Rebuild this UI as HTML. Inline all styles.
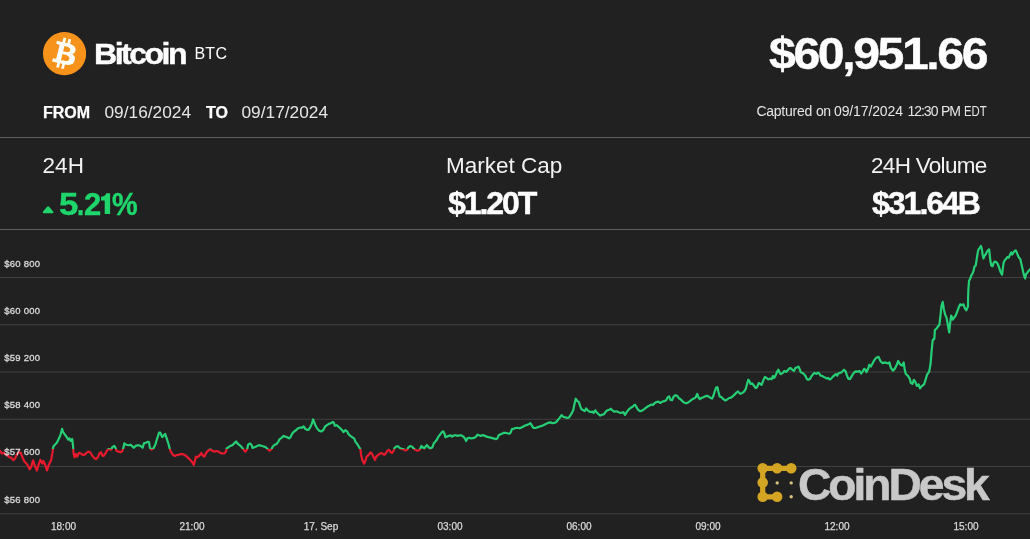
<!DOCTYPE html>
<html lang="en">
<head>
<meta charset="utf-8">
<title>Bitcoin BTC price chart</title>
<style>
  html, body { margin: 0; padding: 0; }
  body {
    width: 1030px; height: 539px; overflow: hidden;
    background: #212121;
    font-family: "Liberation Sans", sans-serif;
    color: #ffffff;
    position: relative;
  }
  .abs { position: absolute; white-space: nowrap; line-height: 1; }
  #textlayer { position: absolute; left: 0; top: 0; width: 1030px; height: 539px; will-change: transform; }
  .hr { position: absolute; left: 0; width: 1030px; height: 1px; background: #5e5e5e; }

  /* header */
  #coin-name { left: 93.8px; top: 38.8px; font-size: 30px; font-weight: bold; letter-spacing: -2.38px; transform: scaleX(1.07); transform-origin: 0 0; }
  #coin-sym  { left: 194.4px; top: 46px; font-size: 16px; letter-spacing: 0.3px; }
  #lbl-from  { left: 43px; top: 105px; font-size: 16px; font-weight: bold; }
  #date-from { left: 104.5px; top: 104px; font-size: 17.3px; color: #e6e6e6; }
  #lbl-to    { left: 206px; top: 105px; font-size: 16px; font-weight: bold; }
  #date-to   { left: 241.5px; top: 104px; font-size: 17.3px; color: #e6e6e6; }
  #price     { left: 769.3px; top: 31.2px; font-size: 45px; font-weight: bold; letter-spacing: -2.24px; transform: scaleX(1.07); transform-origin: 0 0; }
  .cap { top: 104.3px; font-size: 14px; color: #e6e6e6; }

  /* stats */
  .stat-lbl { top: 155px; font-size: 22.5px; color: #f2f2f2; }
  .stat-val { top: 187.5px; font-size: 30px; font-weight: bold; transform: scale(1.07,1.02); transform-origin: 0 0; }
  #s1-lbl { left: 42.5px; letter-spacing: 0.1px; }
  #s1-val .g { top: 188.7px; font-size: 30px; font-weight: bold; color: #1fd66c; transform-origin: 0 0; }
  #s2-lbl { left: 446px; letter-spacing: 0; }
  #s2-val { left: 447.5px; letter-spacing: -1.98px; }
  #s3-lbl { left: 871px; letter-spacing: -0.7px; }
  #s3-val { left: 872.2px; letter-spacing: -1.92px; }

  #cdtext { left: 798.4px; top: 463.2px; font-size: 44px; font-weight: bold; color: #c8c8c8; letter-spacing: -2.9px; transform: scaleX(1.05); transform-origin: 0 0; }

  .stat-val, #price, #coin-name, #s1-val .g { -webkit-text-stroke: 0.4px currentColor; }
  #cdtext { -webkit-text-stroke: 0.5px #c8c8c8; }
  #lbl-from, #lbl-to { -webkit-text-stroke: 0.25px #fff; }

  /* chart */
  #chart { position: absolute; left: 0; top: 0; width: 1030px; height: 539px; }
  .ylab { left: 4.2px; font-size: 9.5px; letter-spacing: 0.25px; color: #dadada; -webkit-text-stroke: 0.3px #dadada; margin-top: -1.2px; }
  .xlab { top: 522.3px; font-size: 10px; color: #dadada; -webkit-text-stroke: 0.25px #dadada; transform: translateX(-50%); }
</style>
</head>
<body>

<svg id="chart" viewBox="0 0 1030 539">
  <g stroke="#404040" stroke-width="1" fill="none">
    <line x1="0" y1="277.5" x2="1030" y2="277.5"/>
    <line x1="0" y1="324.75" x2="1030" y2="324.75"/>
    <line x1="0" y1="372" x2="1030" y2="372"/>
    <line x1="0" y1="419.25" x2="1030" y2="419.25"/>
    <line x1="0" y1="466.5" x2="1030" y2="466.5"/>
    <line x1="0" y1="513.75" x2="1030" y2="513.75"/>
  </g>
  <defs>
    <clipPath id="above"><rect x="0" y="230" width="1030" height="219"/></clipPath>
    <clipPath id="below"><rect x="0" y="449" width="1030" height="60"/></clipPath>
  </defs>
  <path clip-path="url(#above)" fill="none" stroke="#26cf76" stroke-width="2.2" stroke-linejoin="round" stroke-linecap="round" d="M0.0,451.0 L1.9,453.5 L3.8,452.9 L5.7,454.8 L7.6,455.4 L9.5,457.3 L11.4,457.9 L13.3,460.2 L15.1,458.5 L17.0,454.1 L18.9,452.2 L20.8,452.9 L22.7,457.9 L24.6,461.7 L27.1,464.2 L29.7,469.3 L30.9,467.4 L33.1,460.4 L34.7,465.5 L36.9,470.5 L38.5,464.9 L40.4,459.8 L42.3,463.6 L43.5,461.1 L45.4,465.5 L47.0,470.5 L48.6,465.5 L49.9,462.3 L51.1,460.4 L52.4,452.9 L53.3,446.6 L54.9,444.7 L56.8,442.8 L58.7,439.0 L60.6,434.6 L62.1,428.9 L63.1,432.0 L64.4,433.9 L66.3,436.5 L68.2,439.6 L69.4,438.3 L70.7,440.9 L72.2,439.0 L73.0,445.3 L73.5,452.9 L74.5,457.3 L75.7,454.1 L77.0,456.7 L78.9,452.9 L80.8,453.5 L82.7,454.8 L84.6,454.8 L86.5,452.9 L88.3,451.6 L90.2,452.2 L92.1,455.4 L94.0,457.9 L95.9,459.2 L97.8,457.3 L99.7,452.9 L101.0,452.2 L102.2,455.4 L103.5,456.0 L105.4,453.5 L107.3,449.7 L109.2,449.1 L111.1,449.7 L112.3,447.2 L114.2,445.9 L115.5,447.8 L116.7,451.0 L118.6,451.6 L120.5,452.2 L122.4,451.0 L123.7,446.6 L124.3,443.4 L126.2,444.7 L128.8,445.3 L130.7,444.7 L132.6,446.6 L133.8,447.8 L135.7,445.9 L137.6,445.3 L139.5,445.3 L141.4,446.6 L142.7,447.8 L143.9,443.4 L145.8,442.8 L147.7,441.8 L149.0,442.1 L149.9,447.8 L151.5,449.7 L153.4,448.4 L155.3,444.7 L157.2,438.3 L159.1,432.7 L160.3,432.7 L162.2,437.1 L163.5,435.8 L165.1,433.9 L166.7,438.3 L168.5,444.0 L169.8,449.1 L171.1,452.2 L173.0,454.8 L174.9,456.0 L176.7,455.1 L178.6,454.8 L180.5,454.1 L182.4,454.1 L184.3,454.8 L186.2,456.0 L188.1,457.9 L190.0,459.8 L191.9,461.7 L193.8,464.9 L195.0,460.4 L195.9,456.7 L197.6,457.3 L199.5,455.4 L201.4,452.9 L202.6,455.4 L204.3,456.7 L205.8,453.5 L207.7,451.0 L209.6,449.6 L210.8,449.6 L212.7,451.0 L214.6,451.6 L216.5,451.0 L218.4,451.6 L220.3,452.9 L222.2,453.5 L224.1,453.5 L226.0,451.6 L226.6,448.4 L228.5,447.2 L230.4,445.9 L232.3,445.3 L234.2,443.4 L236.1,441.5 L238.0,444.0 L239.9,445.3 L241.7,447.2 L243.6,449.7 L245.5,451.6 L247.2,449.1 L248.1,444.7 L250.0,443.4 L251.8,445.3 L252.5,447.9 L254.4,447.3 L256.3,446.4 L258.2,445.4 L260.1,445.4 L262.0,446.0 L263.9,446.4 L265.8,447.3 L267.7,449.2 L269.6,450.7 L271.5,449.2 L272.7,446.7 L274.6,444.8 L276.5,444.1 L278.4,441.6 L279.7,439.1 L281.6,437.8 L283.4,435.9 L285.3,436.6 L287.2,437.2 L289.1,438.4 L290.4,437.2 L292.3,433.4 L294.2,431.5 L296.1,430.2 L298.0,428.3 L299.9,427.7 L301.7,427.7 L303.6,426.5 L305.5,429.0 L307.4,430.0 L308.7,429.6 L310.3,427.1 L311.8,423.9 L313.1,419.5 L314.4,422.7 L315.6,425.8 L317.5,429.0 L319.4,430.9 L321.3,431.5 L323.2,430.2 L325.1,426.5 L327.0,425.2 L328.9,423.9 L330.8,423.3 L332.7,422.0 L333.9,422.7 L334.8,425.8 L336.5,425.2 L338.3,426.5 L340.2,428.3 L342.1,430.2 L343.4,432.1 L345.3,430.2 L347.2,431.5 L348.4,434.0 L350.3,435.9 L352.2,437.2 L354.1,438.4 L355.4,441.6 L357.3,444.1 L359.2,447.3 L360.4,449.2 L361.1,454.9 L362.3,459.9 L364.2,463.7 L365.5,460.5 L366.7,456.7 L368.6,454.9 L370.5,452.3 L371.8,453.6 L373.1,456.1 L375.0,459.9 L376.2,456.7 L378.2,454.9 L380.0,453.6 L381.9,453.0 L383.2,454.2 L384.5,454.9 L386.4,452.3 L387.6,450.4 L389.1,449.8 L390.8,452.3 L392.0,453.0 L393.7,450.4 L394.6,447.9 L396.5,446.4 L398.3,446.4 L399.6,447.9 L401.5,448.9 L403.4,449.2 L405.3,450.4 L407.2,449.8 L408.4,447.3 L410.3,446.0 L412.2,446.7 L413.5,448.5 L415.4,449.8 L417.3,450.7 L419.2,450.2 L420.4,448.5 L421.4,446.0 L423.0,447.3 L424.2,448.5 L425.5,446.7 L427.0,445.1 L428.6,447.3 L430.5,448.5 L432.4,447.3 L433.7,443.5 L435.3,441.6 L436.8,439.7 L438.1,437.2 L440.0,434.7 L441.9,432.1 L443.2,431.3 L444.4,433.4 L445.4,437.2 L446.9,436.6 L448.8,435.9 L450.7,435.3 L452.2,436.6 L453.9,435.3 L455.8,435.3 L457.7,435.9 L459.6,435.3 L461.5,435.3 L463.3,436.6 L464.9,438.4 L466.1,441.0 L467.4,438.4 L469.0,437.8 L470.9,438.4 L472.8,438.1 L474.7,437.6 L476.0,436.6 L477.5,434.7 L479.1,435.3 L481.0,435.9 L482.9,435.0 L484.8,435.9 L486.7,436.6 L488.6,437.2 L490.5,437.6 L492.4,438.1 L494.3,438.6 L496.2,439.1 L497.4,438.4 L498.7,435.3 L500.6,434.3 L502.5,433.4 L503.8,432.8 L505.7,432.8 L507.6,433.3 L509.5,433.7 L510.7,432.4 L512.0,429.0 L513.9,428.6 L515.8,428.0 L517.7,427.8 L519.6,428.3 L521.5,427.4 L523.3,426.5 L525.2,425.5 L527.1,424.9 L529.0,424.0 L530.5,423.2 L531.8,425.5 L533.4,427.8 L535.3,428.0 L537.2,427.4 L539.1,426.7 L541.0,426.1 L542.9,425.5 L544.8,424.5 L546.7,423.6 L548.6,422.7 L550.5,422.3 L552.4,423.2 L554.3,423.0 L556.2,422.0 L558.1,419.8 L560.0,417.3 L561.6,415.1 L563.1,416.7 L565.0,417.3 L566.9,417.9 L568.8,417.7 L570.0,416.0 L571.9,412.9 L573.2,410.3 L574.5,404.0 L575.7,398.7 L577.2,400.9 L578.9,402.1 L580.1,405.9 L581.4,409.1 L583.3,410.3 L584.8,411.0 L586.1,408.4 L587.7,410.3 L589.4,411.6 L590.9,412.2 L592.4,411.6 L593.7,412.9 L595.3,410.3 L596.6,412.2 L598.4,414.1 L600.3,415.6 L602.2,414.8 L604.1,414.1 L605.8,411.6 L607.3,410.3 L609.2,409.7 L610.8,408.8 L612.3,410.3 L614.2,411.6 L616.1,411.3 L618.0,411.9 L619.9,412.9 L621.8,412.6 L623.4,412.2 L625.0,414.8 L626.9,411.8 L628.8,409.3 L630.7,407.8 L632.6,406.8 L634.1,405.3 L635.3,404.9 L636.6,407.4 L638.3,410.0 L640.1,411.2 L642.0,410.6 L643.9,409.3 L645.8,407.8 L647.7,406.5 L649.6,405.5 L651.5,404.5 L653.0,404.9 L654.7,403.0 L656.6,402.0 L658.4,401.7 L660.3,403.0 L662.2,401.7 L664.1,401.1 L666.0,400.5 L667.7,397.3 L669.2,396.4 L670.4,399.9 L672.0,400.2 L673.6,396.7 L675.5,395.2 L677.4,396.1 L678.6,398.0 L680.5,399.2 L682.4,401.1 L684.3,402.8 L686.2,403.3 L688.1,402.4 L690.0,401.1 L691.9,399.5 L693.8,398.6 L695.7,397.3 L697.2,393.9 L698.5,397.3 L699.7,399.0 L701.4,398.0 L703.3,397.3 L705.1,396.4 L707.0,395.7 L708.9,396.7 L710.6,398.0 L712.1,398.6 L713.3,396.1 L714.9,391.0 L716.1,387.6 L717.4,387.2 L718.4,391.7 L719.7,396.4 L721.6,397.3 L723.4,399.2 L725.3,400.5 L727.2,399.5 L729.1,398.0 L731.0,397.7 L732.9,396.1 L734.8,394.4 L736.7,392.3 L738.0,391.4 L739.2,392.9 L740.5,393.9 L742.4,392.9 L744.3,391.4 L745.9,388.5 L747.2,383.4 L748.4,379.7 L749.7,381.6 L750.6,384.1 L752.2,383.4 L753.8,385.5 L755.7,388.0 L756.9,387.4 L758.8,383.0 L760.3,384.0 L761.6,384.9 L763.3,380.4 L764.9,376.9 L766.4,377.9 L768.3,379.4 L770.2,378.5 L771.7,379.2 L773.0,376.0 L774.2,377.9 L775.9,374.8 L777.1,371.6 L778.4,369.7 L779.7,372.9 L780.9,374.1 L782.8,372.9 L784.3,371.0 L786.0,371.9 L787.9,370.1 L789.4,368.4 L790.6,368.1 L792.3,369.7 L793.9,371.0 L795.4,368.1 L797.3,367.2 L798.6,366.6 L799.9,369.7 L800.7,372.2 L802.4,372.9 L804.0,374.1 L805.5,376.0 L807.0,379.2 L808.3,379.8 L810.0,378.9 L811.6,376.0 L813.1,374.1 L814.6,372.9 L816.3,373.9 L817.9,372.6 L819.2,373.5 L820.4,375.4 L822.2,376.0 L823.8,376.9 L825.5,377.7 L826.7,378.5 L828.0,377.9 L829.5,379.4 L831.0,378.9 L832.7,376.9 L834.3,375.4 L835.8,374.1 L837.3,375.6 L838.3,373.5 L839.9,372.9 L841.5,372.2 L842.8,371.0 L844.0,369.7 L845.7,371.6 L846.9,375.4 L848.2,378.5 L849.7,379.2 L851.2,377.3 L852.9,374.1 L854.5,372.2 L856.0,371.3 L857.9,371.6 L859.6,371.0 L861.1,373.5 L862.6,371.6 L864.2,368.8 L865.5,369.7 L866.4,372.2 L868.0,369.1 L869.3,364.7 L870.9,366.6 L872.0,364.5 L874.1,360.4 L876.1,357.8 L878.6,356.9 L880.6,361.4 L882.7,363.1 L885.3,362.4 L888.0,363.5 L889.4,362.4 L890.8,367.6 L892.9,370.6 L894.9,368.6 L896.9,364.5 L898.2,361.0 L900.2,364.5 L902.2,365.5 L903.7,362.4 L904.7,369.6 L905.7,373.7 L907.8,375.7 L909.8,378.8 L910.8,382.9 L912.4,383.9 L913.9,379.8 L915.3,381.8 L916.9,385.9 L918.6,384.3 L920.0,388.4 L922.0,385.9 L924.1,384.3 L925.5,379.8 L927.1,374.7 L929.2,371.6 L930.6,363.5 L931.6,351.2 L932.7,340.0 L934.3,339.0 L934.9,329.8 L936.3,328.8 L937.8,326.7 L939.4,324.7 L940.4,316.5 L941.4,306.3 L942.7,301.8 L943.9,309.4 L945.1,314.5 L946.5,317.6 L948.0,325.7 L949.2,332.4 L950.2,322.7 L951.2,315.5 L952.7,319.6 L954.1,317.6 L955.7,315.5 L957.3,311.4 L958.8,307.3 L960.2,304.3 L961.8,305.3 L963.5,304.3 L964.9,308.4 L966.3,310.4 L968.0,306.3 L968.1,297.3 L968.4,289.5 L969.0,281.1 L970.3,278.5 L971.3,275.3 L972.6,273.3 L973.6,270.7 L974.4,266.8 L975.7,265.5 L976.5,260.3 L977.4,254.5 L978.3,249.9 L979.6,248.0 L980.9,246.0 L981.9,249.3 L982.6,254.5 L983.5,258.4 L984.5,255.8 L985.6,254.5 L986.5,252.5 L987.8,250.6 L989.1,249.3 L989.7,254.5 L990.4,261.0 L991.3,265.5 L992.6,266.2 L993.6,262.9 L994.9,261.6 L996.5,262.3 L997.8,264.2 L999.1,267.5 L1000.1,270.7 L1001.2,273.3 L1002.1,274.6 L1002.7,269.4 L1003.6,262.9 L1004.7,260.3 L1006.0,259.0 L1007.3,257.1 L1008.6,257.7 L1009.9,255.1 L1011.2,252.5 L1012.1,254.5 L1013.1,253.2 L1014.4,251.2 L1015.7,250.3 L1016.8,252.5 L1017.7,255.1 L1019.0,257.7 L1020.3,259.0 L1021.2,262.9 L1022.2,267.5 L1023.2,272.0 L1024.2,275.9 L1025.1,278.5 L1026.1,274.0 L1027.4,272.7 L1028.7,270.7 L1030.6,268.8"/>
  <path clip-path="url(#below)" fill="none" stroke="#e6192d" stroke-width="2.2" stroke-linejoin="round" stroke-linecap="round" d="M0.0,451.0 L1.9,453.5 L3.8,452.9 L5.7,454.8 L7.6,455.4 L9.5,457.3 L11.4,457.9 L13.3,460.2 L15.1,458.5 L17.0,454.1 L18.9,452.2 L20.8,452.9 L22.7,457.9 L24.6,461.7 L27.1,464.2 L29.7,469.3 L30.9,467.4 L33.1,460.4 L34.7,465.5 L36.9,470.5 L38.5,464.9 L40.4,459.8 L42.3,463.6 L43.5,461.1 L45.4,465.5 L47.0,470.5 L48.6,465.5 L49.9,462.3 L51.1,460.4 L52.4,452.9 L53.3,446.6 L54.9,444.7 L56.8,442.8 L58.7,439.0 L60.6,434.6 L62.1,428.9 L63.1,432.0 L64.4,433.9 L66.3,436.5 L68.2,439.6 L69.4,438.3 L70.7,440.9 L72.2,439.0 L73.0,445.3 L73.5,452.9 L74.5,457.3 L75.7,454.1 L77.0,456.7 L78.9,452.9 L80.8,453.5 L82.7,454.8 L84.6,454.8 L86.5,452.9 L88.3,451.6 L90.2,452.2 L92.1,455.4 L94.0,457.9 L95.9,459.2 L97.8,457.3 L99.7,452.9 L101.0,452.2 L102.2,455.4 L103.5,456.0 L105.4,453.5 L107.3,449.7 L109.2,449.1 L111.1,449.7 L112.3,447.2 L114.2,445.9 L115.5,447.8 L116.7,451.0 L118.6,451.6 L120.5,452.2 L122.4,451.0 L123.7,446.6 L124.3,443.4 L126.2,444.7 L128.8,445.3 L130.7,444.7 L132.6,446.6 L133.8,447.8 L135.7,445.9 L137.6,445.3 L139.5,445.3 L141.4,446.6 L142.7,447.8 L143.9,443.4 L145.8,442.8 L147.7,441.8 L149.0,442.1 L149.9,447.8 L151.5,449.7 L153.4,448.4 L155.3,444.7 L157.2,438.3 L159.1,432.7 L160.3,432.7 L162.2,437.1 L163.5,435.8 L165.1,433.9 L166.7,438.3 L168.5,444.0 L169.8,449.1 L171.1,452.2 L173.0,454.8 L174.9,456.0 L176.7,455.1 L178.6,454.8 L180.5,454.1 L182.4,454.1 L184.3,454.8 L186.2,456.0 L188.1,457.9 L190.0,459.8 L191.9,461.7 L193.8,464.9 L195.0,460.4 L195.9,456.7 L197.6,457.3 L199.5,455.4 L201.4,452.9 L202.6,455.4 L204.3,456.7 L205.8,453.5 L207.7,451.0 L209.6,449.6 L210.8,449.6 L212.7,451.0 L214.6,451.6 L216.5,451.0 L218.4,451.6 L220.3,452.9 L222.2,453.5 L224.1,453.5 L226.0,451.6 L226.6,448.4 L228.5,447.2 L230.4,445.9 L232.3,445.3 L234.2,443.4 L236.1,441.5 L238.0,444.0 L239.9,445.3 L241.7,447.2 L243.6,449.7 L245.5,451.6 L247.2,449.1 L248.1,444.7 L250.0,443.4 L251.8,445.3 L252.5,447.9 L254.4,447.3 L256.3,446.4 L258.2,445.4 L260.1,445.4 L262.0,446.0 L263.9,446.4 L265.8,447.3 L267.7,449.2 L269.6,450.7 L271.5,449.2 L272.7,446.7 L274.6,444.8 L276.5,444.1 L278.4,441.6 L279.7,439.1 L281.6,437.8 L283.4,435.9 L285.3,436.6 L287.2,437.2 L289.1,438.4 L290.4,437.2 L292.3,433.4 L294.2,431.5 L296.1,430.2 L298.0,428.3 L299.9,427.7 L301.7,427.7 L303.6,426.5 L305.5,429.0 L307.4,430.0 L308.7,429.6 L310.3,427.1 L311.8,423.9 L313.1,419.5 L314.4,422.7 L315.6,425.8 L317.5,429.0 L319.4,430.9 L321.3,431.5 L323.2,430.2 L325.1,426.5 L327.0,425.2 L328.9,423.9 L330.8,423.3 L332.7,422.0 L333.9,422.7 L334.8,425.8 L336.5,425.2 L338.3,426.5 L340.2,428.3 L342.1,430.2 L343.4,432.1 L345.3,430.2 L347.2,431.5 L348.4,434.0 L350.3,435.9 L352.2,437.2 L354.1,438.4 L355.4,441.6 L357.3,444.1 L359.2,447.3 L360.4,449.2 L361.1,454.9 L362.3,459.9 L364.2,463.7 L365.5,460.5 L366.7,456.7 L368.6,454.9 L370.5,452.3 L371.8,453.6 L373.1,456.1 L375.0,459.9 L376.2,456.7 L378.2,454.9 L380.0,453.6 L381.9,453.0 L383.2,454.2 L384.5,454.9 L386.4,452.3 L387.6,450.4 L389.1,449.8 L390.8,452.3 L392.0,453.0 L393.7,450.4 L394.6,447.9 L396.5,446.4 L398.3,446.4 L399.6,447.9 L401.5,448.9 L403.4,449.2 L405.3,450.4 L407.2,449.8 L408.4,447.3 L410.3,446.0 L412.2,446.7 L413.5,448.5 L415.4,449.8 L417.3,450.7 L419.2,450.2 L420.4,448.5 L421.4,446.0 L423.0,447.3 L424.2,448.5 L425.5,446.7 L427.0,445.1 L428.6,447.3 L430.5,448.5 L432.4,447.3 L433.7,443.5 L435.3,441.6 L436.8,439.7 L438.1,437.2 L440.0,434.7 L441.9,432.1 L443.2,431.3 L444.4,433.4 L445.4,437.2 L446.9,436.6 L448.8,435.9 L450.7,435.3 L452.2,436.6 L453.9,435.3 L455.8,435.3 L457.7,435.9 L459.6,435.3 L461.5,435.3 L463.3,436.6 L464.9,438.4 L466.1,441.0 L467.4,438.4 L469.0,437.8 L470.9,438.4 L472.8,438.1 L474.7,437.6 L476.0,436.6 L477.5,434.7 L479.1,435.3 L481.0,435.9 L482.9,435.0 L484.8,435.9 L486.7,436.6 L488.6,437.2 L490.5,437.6 L492.4,438.1 L494.3,438.6 L496.2,439.1 L497.4,438.4 L498.7,435.3 L500.6,434.3 L502.5,433.4 L503.8,432.8 L505.7,432.8 L507.6,433.3 L509.5,433.7 L510.7,432.4 L512.0,429.0 L513.9,428.6 L515.8,428.0 L517.7,427.8 L519.6,428.3 L521.5,427.4 L523.3,426.5 L525.2,425.5 L527.1,424.9 L529.0,424.0 L530.5,423.2 L531.8,425.5 L533.4,427.8 L535.3,428.0 L537.2,427.4 L539.1,426.7 L541.0,426.1 L542.9,425.5 L544.8,424.5 L546.7,423.6 L548.6,422.7 L550.5,422.3 L552.4,423.2 L554.3,423.0 L556.2,422.0 L558.1,419.8 L560.0,417.3 L561.6,415.1 L563.1,416.7 L565.0,417.3 L566.9,417.9 L568.8,417.7 L570.0,416.0 L571.9,412.9 L573.2,410.3 L574.5,404.0 L575.7,398.7 L577.2,400.9 L578.9,402.1 L580.1,405.9 L581.4,409.1 L583.3,410.3 L584.8,411.0 L586.1,408.4 L587.7,410.3 L589.4,411.6 L590.9,412.2 L592.4,411.6 L593.7,412.9 L595.3,410.3 L596.6,412.2 L598.4,414.1 L600.3,415.6 L602.2,414.8 L604.1,414.1 L605.8,411.6 L607.3,410.3 L609.2,409.7 L610.8,408.8 L612.3,410.3 L614.2,411.6 L616.1,411.3 L618.0,411.9 L619.9,412.9 L621.8,412.6 L623.4,412.2 L625.0,414.8 L626.9,411.8 L628.8,409.3 L630.7,407.8 L632.6,406.8 L634.1,405.3 L635.3,404.9 L636.6,407.4 L638.3,410.0 L640.1,411.2 L642.0,410.6 L643.9,409.3 L645.8,407.8 L647.7,406.5 L649.6,405.5 L651.5,404.5 L653.0,404.9 L654.7,403.0 L656.6,402.0 L658.4,401.7 L660.3,403.0 L662.2,401.7 L664.1,401.1 L666.0,400.5 L667.7,397.3 L669.2,396.4 L670.4,399.9 L672.0,400.2 L673.6,396.7 L675.5,395.2 L677.4,396.1 L678.6,398.0 L680.5,399.2 L682.4,401.1 L684.3,402.8 L686.2,403.3 L688.1,402.4 L690.0,401.1 L691.9,399.5 L693.8,398.6 L695.7,397.3 L697.2,393.9 L698.5,397.3 L699.7,399.0 L701.4,398.0 L703.3,397.3 L705.1,396.4 L707.0,395.7 L708.9,396.7 L710.6,398.0 L712.1,398.6 L713.3,396.1 L714.9,391.0 L716.1,387.6 L717.4,387.2 L718.4,391.7 L719.7,396.4 L721.6,397.3 L723.4,399.2 L725.3,400.5 L727.2,399.5 L729.1,398.0 L731.0,397.7 L732.9,396.1 L734.8,394.4 L736.7,392.3 L738.0,391.4 L739.2,392.9 L740.5,393.9 L742.4,392.9 L744.3,391.4 L745.9,388.5 L747.2,383.4 L748.4,379.7 L749.7,381.6 L750.6,384.1 L752.2,383.4 L753.8,385.5 L755.7,388.0 L756.9,387.4 L758.8,383.0 L760.3,384.0 L761.6,384.9 L763.3,380.4 L764.9,376.9 L766.4,377.9 L768.3,379.4 L770.2,378.5 L771.7,379.2 L773.0,376.0 L774.2,377.9 L775.9,374.8 L777.1,371.6 L778.4,369.7 L779.7,372.9 L780.9,374.1 L782.8,372.9 L784.3,371.0 L786.0,371.9 L787.9,370.1 L789.4,368.4 L790.6,368.1 L792.3,369.7 L793.9,371.0 L795.4,368.1 L797.3,367.2 L798.6,366.6 L799.9,369.7 L800.7,372.2 L802.4,372.9 L804.0,374.1 L805.5,376.0 L807.0,379.2 L808.3,379.8 L810.0,378.9 L811.6,376.0 L813.1,374.1 L814.6,372.9 L816.3,373.9 L817.9,372.6 L819.2,373.5 L820.4,375.4 L822.2,376.0 L823.8,376.9 L825.5,377.7 L826.7,378.5 L828.0,377.9 L829.5,379.4 L831.0,378.9 L832.7,376.9 L834.3,375.4 L835.8,374.1 L837.3,375.6 L838.3,373.5 L839.9,372.9 L841.5,372.2 L842.8,371.0 L844.0,369.7 L845.7,371.6 L846.9,375.4 L848.2,378.5 L849.7,379.2 L851.2,377.3 L852.9,374.1 L854.5,372.2 L856.0,371.3 L857.9,371.6 L859.6,371.0 L861.1,373.5 L862.6,371.6 L864.2,368.8 L865.5,369.7 L866.4,372.2 L868.0,369.1 L869.3,364.7 L870.9,366.6 L872.0,364.5 L874.1,360.4 L876.1,357.8 L878.6,356.9 L880.6,361.4 L882.7,363.1 L885.3,362.4 L888.0,363.5 L889.4,362.4 L890.8,367.6 L892.9,370.6 L894.9,368.6 L896.9,364.5 L898.2,361.0 L900.2,364.5 L902.2,365.5 L903.7,362.4 L904.7,369.6 L905.7,373.7 L907.8,375.7 L909.8,378.8 L910.8,382.9 L912.4,383.9 L913.9,379.8 L915.3,381.8 L916.9,385.9 L918.6,384.3 L920.0,388.4 L922.0,385.9 L924.1,384.3 L925.5,379.8 L927.1,374.7 L929.2,371.6 L930.6,363.5 L931.6,351.2 L932.7,340.0 L934.3,339.0 L934.9,329.8 L936.3,328.8 L937.8,326.7 L939.4,324.7 L940.4,316.5 L941.4,306.3 L942.7,301.8 L943.9,309.4 L945.1,314.5 L946.5,317.6 L948.0,325.7 L949.2,332.4 L950.2,322.7 L951.2,315.5 L952.7,319.6 L954.1,317.6 L955.7,315.5 L957.3,311.4 L958.8,307.3 L960.2,304.3 L961.8,305.3 L963.5,304.3 L964.9,308.4 L966.3,310.4 L968.0,306.3 L968.1,297.3 L968.4,289.5 L969.0,281.1 L970.3,278.5 L971.3,275.3 L972.6,273.3 L973.6,270.7 L974.4,266.8 L975.7,265.5 L976.5,260.3 L977.4,254.5 L978.3,249.9 L979.6,248.0 L980.9,246.0 L981.9,249.3 L982.6,254.5 L983.5,258.4 L984.5,255.8 L985.6,254.5 L986.5,252.5 L987.8,250.6 L989.1,249.3 L989.7,254.5 L990.4,261.0 L991.3,265.5 L992.6,266.2 L993.6,262.9 L994.9,261.6 L996.5,262.3 L997.8,264.2 L999.1,267.5 L1000.1,270.7 L1001.2,273.3 L1002.1,274.6 L1002.7,269.4 L1003.6,262.9 L1004.7,260.3 L1006.0,259.0 L1007.3,257.1 L1008.6,257.7 L1009.9,255.1 L1011.2,252.5 L1012.1,254.5 L1013.1,253.2 L1014.4,251.2 L1015.7,250.3 L1016.8,252.5 L1017.7,255.1 L1019.0,257.7 L1020.3,259.0 L1021.2,262.9 L1022.2,267.5 L1023.2,272.0 L1024.2,275.9 L1025.1,278.5 L1026.1,274.0 L1027.4,272.7 L1028.7,270.7 L1030.6,268.8"/>
</svg>

<div class="hr" style="top:137px"></div>
<div class="hr" style="top:229px"></div>

<div id="textlayer">
<!-- bitcoin logo -->
<svg class="abs" style="left:43.1px; top:32.4px" width="43.2" height="43.2" viewBox="0 0 64 64">
  <path fill="#f7931a" d="m63.033,39.744c-4.274,17.143-21.637,27.576-38.782,23.301-17.138-4.274-27.571-21.638-23.295-38.78,4.272-17.145,21.635-27.579,38.775-23.305,17.144,4.274,27.576,21.64,23.302,38.784z"/>
  <path fill="#ffffff" transform="translate(32 32.3) scale(1.15) translate(-32 -32)" d="m46.103,27.444c0.637-4.258-2.605-6.547-7.038-8.074l1.438-5.768-3.511-0.875-1.4,5.616c-0.923-0.23-1.871-0.447-2.813-0.662l1.41-5.653-3.509-0.875-1.439,5.766c-0.764-0.174-1.514-0.346-2.242-0.527l0.004-0.018-4.842-1.209-0.934,3.75s2.605,0.597,2.55,0.634c1.422,0.355,1.679,1.296,1.636,2.042l-1.638,6.571c0.098,0.025,0.225,0.061,0.365,0.117-0.117-0.029-0.242-0.061-0.371-0.092l-2.296,9.205c-0.174,0.432-0.615,1.08-1.609,0.834,0.035,0.051-2.552-0.637-2.552-0.637l-1.743,4.019,4.569,1.139c0.85,0.213,1.683,0.436,2.503,0.646l-1.453,5.834,3.507,0.875,1.439-5.772c0.958,0.26,1.888,0.5,2.798,0.726l-1.434,5.745,3.511,0.875,1.453-5.823c5.987,1.133,10.489,0.676,12.384-4.739,1.527-4.36-0.076-6.875-3.226-8.515,2.294-0.529,4.022-2.038,4.483-5.155zm-8.022,11.249c-1.085,4.36-8.426,2.003-10.806,1.412l1.928-7.729c2.38,0.594,10.012,1.77,8.878,6.317zm1.086-11.312c-0.99,3.966-7.1,1.951-9.082,1.457l1.748-7.01c1.982,0.494,8.365,1.416,7.334,5.553z"/>
</svg>

<div class="abs" id="coin-name">Bitcoin</div>
<div class="abs" id="coin-sym">BTC</div>
<div class="abs" id="lbl-from">FROM</div>
<div class="abs" id="date-from">09/16/2024</div>
<div class="abs" id="lbl-to">TO</div>
<div class="abs" id="date-to">09/17/2024</div>
<div class="abs" id="price">$60,951.66</div>
<div class="abs cap" id="cap1" style="left:756.4px; letter-spacing:-0.24px">Captured</div>
<div class="abs cap" id="cap2" style="left:816px; letter-spacing:-0.5px">on</div>
<div class="abs cap" id="cap3" style="left:834px; letter-spacing:-0.12px">09/17/2024</div>
<div class="abs cap" id="cap4" style="left:907.4px; letter-spacing:-1px">12:30</div>
<div class="abs cap" id="cap5" style="left:941px; letter-spacing:-1.2px">PM</div>
<div class="abs cap" id="cap6" style="left:963.6px; letter-spacing:0; transform:scaleX(0.81); transform-origin:0 0">EDT</div>

<div class="abs stat-lbl" id="s1-lbl">24H</div>
<svg class="abs" id="tri" style="left:42px; top:205px" width="13" height="10" viewBox="0 0 13 10">
  <path d="M6.1,2.2 L10.4,7.2 L1.8,7.2 Z" fill="#1fd66c" stroke="#1fd66c" stroke-width="2" stroke-linejoin="round"/>
</svg>
<div id="s1-val"><span class="abs g" style="left:59.43px; transform:scale(1.159,1.04)">5</span><span class="abs g" style="left:77.07px; transform:scale(0.850,1.04)">.</span><span class="abs g" style="left:83.57px; transform:scale(1.035,1.04)">2</span><svg class="abs" style="left:98px; top:190px" width="16" height="26" viewBox="98 190 16 26"><path fill="#1fd66c" d="M110.1,193.3 L110.1,214.1 L104.7,214.1 L104.7,200.5 L101,200.5 L101,196.8 C103.6,196.7 105.7,195.5 106.3,193.3 Z"/></svg><span class="abs g" style="left:111.78px; transform:scale(0.963,1.04)">%</span></div>
<div class="abs stat-lbl" id="s2-lbl">Market Cap</div>
<div class="abs stat-val" id="s2-val">$1.20T</div>
<div class="abs stat-lbl" id="s3-lbl">24H Volume</div>
<div class="abs stat-val" id="s3-val">$31.64B</div>

<!-- coindesk watermark -->
<svg class="abs" id="cdicon" style="left:750px; top:455px" width="60" height="55" viewBox="750 455 60 55">
  <g stroke="#d4a523" stroke-width="5.2" stroke-linecap="round" fill="none">
    <path d="M791.2,468.3 L762.7,468.3 L762.7,496.8 L777.1,496.8"/>
  </g>
  <g fill="#d4a523">
    <circle cx="762.7" cy="468.3" r="5.3"/><circle cx="777.1" cy="468.3" r="5.3"/><circle cx="791.2" cy="468.3" r="5.3"/>
    <circle cx="762.7" cy="482.4" r="5.3"/>
    <circle cx="762.7" cy="496.8" r="5.3"/><circle cx="777.1" cy="496.8" r="5.3"/>
  </g>
  <g fill="#d8c27c">
    <circle cx="777.2" cy="482.9" r="1.7"/><circle cx="791.2" cy="482.9" r="1.7"/><circle cx="791.2" cy="496.7" r="1.7"/>
  </g>
</svg>
<div class="abs" id="cdtext">CoinDesk</div>
<div class="abs ylab" style="top:259.7px">$60 800</div>
<div class="abs ylab" style="top:306.9px">$60 000</div>
<div class="abs ylab" style="top:354.1px">$59 200</div>
<div class="abs ylab" style="top:401.3px">$58 400</div>
<div class="abs ylab" style="top:448.5px">$57 600</div>
<div class="abs ylab" style="top:495.7px">$56 800</div>

<div class="abs xlab" style="left:63.5px">18:00</div>
<div class="abs xlab" style="left:192px">21:00</div>
<div class="abs xlab" style="left:321px">17. Sep</div>
<div class="abs xlab" style="left:450px">03:00</div>
<div class="abs xlab" style="left:579px">06:00</div>
<div class="abs xlab" style="left:708px">09:00</div>
<div class="abs xlab" style="left:837px">12:00</div>
<div class="abs xlab" style="left:966px">15:00</div>

</div>
</body>
</html>
